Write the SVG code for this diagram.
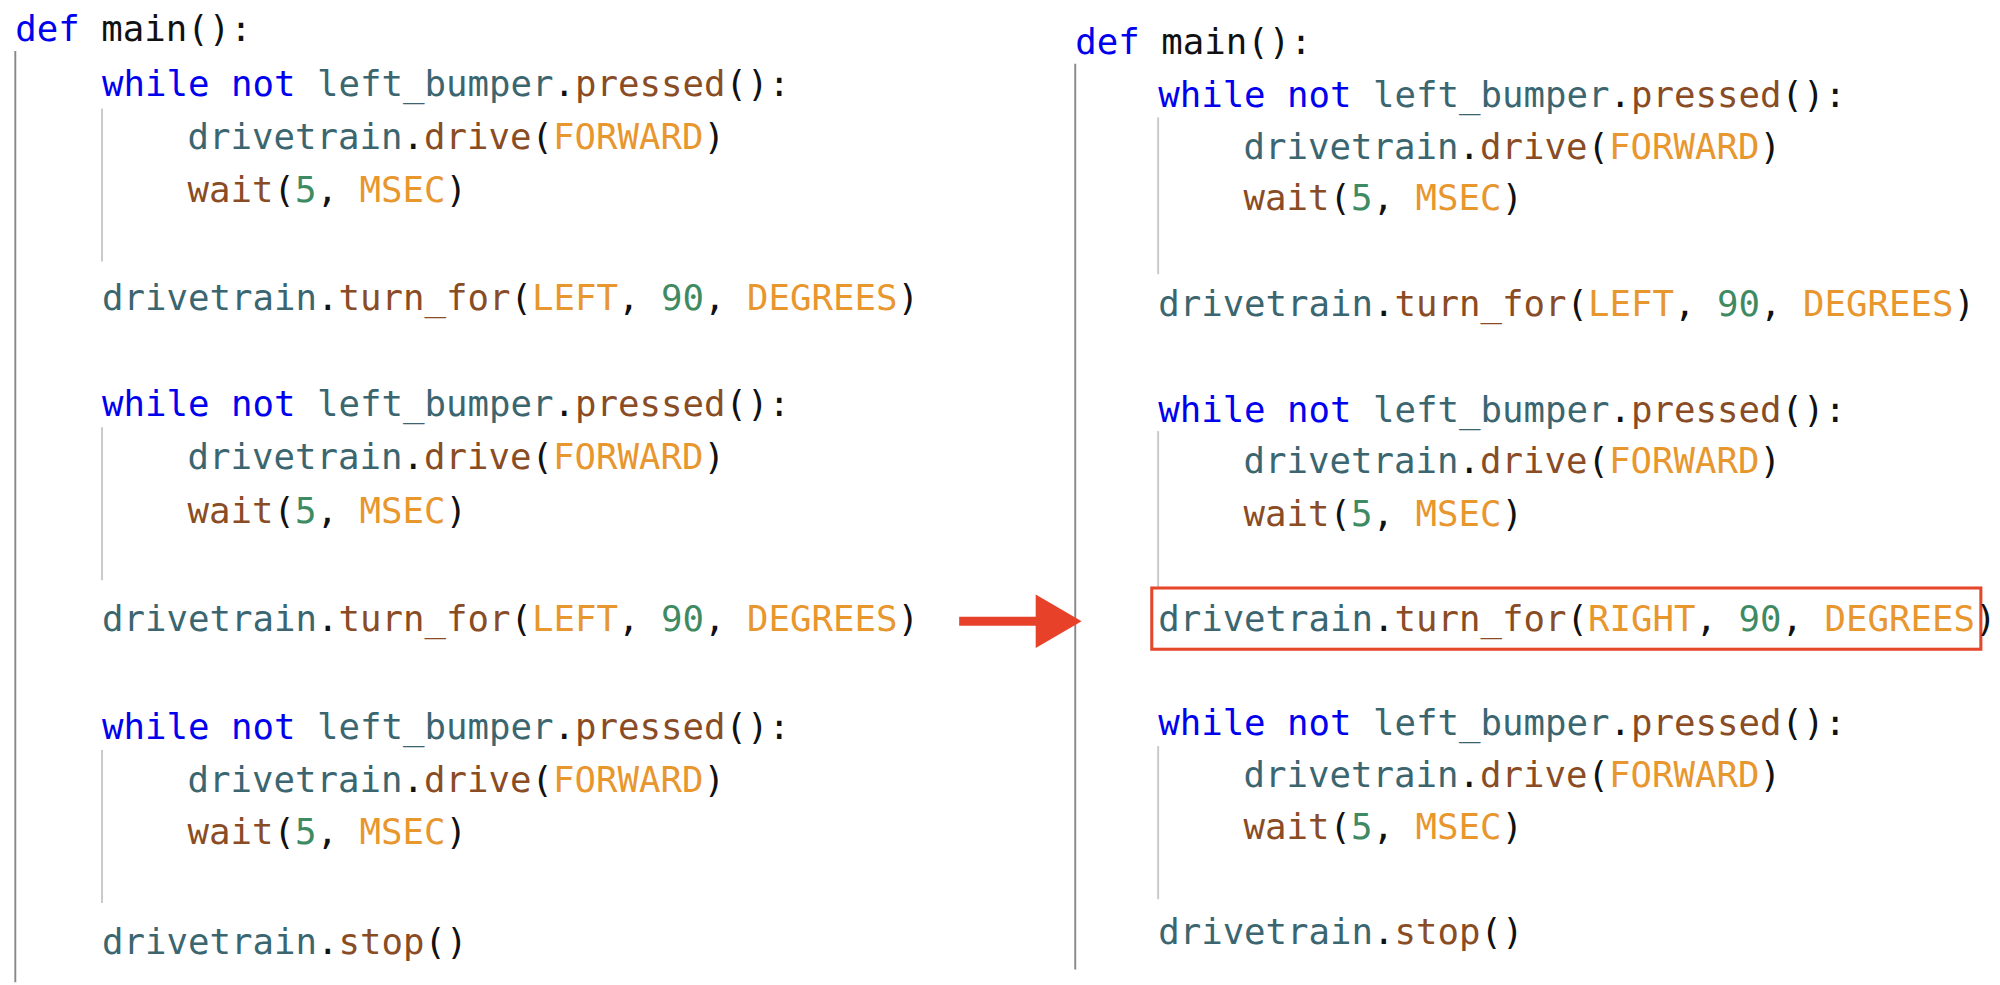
<svg xmlns="http://www.w3.org/2000/svg" width="2000" height="985" viewBox="0 0 2000 985">
<style>
text{font-family:"DejaVu Sans Mono","Liberation Mono",monospace;font-size:28px;fill:#111;white-space:pre}
.k{fill:#0000ee}.v{fill:#3b6670}.m{fill:#8a4c25}.c{fill:#e8962e}.n{fill:#3e8a62}
.g{stroke:#c8c8c8;stroke-width:1.5}.G{stroke:#888;stroke-width:1.5}
</style>
<rect width="2000" height="985" fill="#fff"/>
<g transform="scale(1.2755)">
<g id="left">
<line class="G" x1="12" y1="40" x2="12" y2="770"/>
<line class="g" x1="80" y1="85" x2="80" y2="205"/>
<line class="g" x1="80" y1="335" x2="80" y2="455"/>
<line class="g" x1="80" y1="588" x2="80" y2="708"/>
<text x="12" y="32"><tspan class="k">def</tspan> main():</text>
<text x="80" y="75"><tspan class="k">while not</tspan> <tspan class="v">left_bumper</tspan>.<tspan class="m">pressed</tspan>():</text>
<text x="147" y="117"><tspan class="v">drivetrain</tspan>.<tspan class="m">drive</tspan>(<tspan class="c">FORWARD</tspan>)</text>
<text x="147" y="158"><tspan class="m">wait</tspan>(<tspan class="n">5</tspan>, <tspan class="c">MSEC</tspan>)</text>
<text x="80" y="243"><tspan class="v">drivetrain</tspan>.<tspan class="m">turn_for</tspan>(<tspan class="c">LEFT</tspan>, <tspan class="n">90</tspan>, <tspan class="c">DEGREES</tspan>)</text>
<text x="80" y="326"><tspan class="k">while not</tspan> <tspan class="v">left_bumper</tspan>.<tspan class="m">pressed</tspan>():</text>
<text x="147" y="368"><tspan class="v">drivetrain</tspan>.<tspan class="m">drive</tspan>(<tspan class="c">FORWARD</tspan>)</text>
<text x="147" y="410"><tspan class="m">wait</tspan>(<tspan class="n">5</tspan>, <tspan class="c">MSEC</tspan>)</text>
<text x="80" y="495"><tspan class="v">drivetrain</tspan>.<tspan class="m">turn_for</tspan>(<tspan class="c">LEFT</tspan>, <tspan class="n">90</tspan>, <tspan class="c">DEGREES</tspan>)</text>
<text x="80" y="579"><tspan class="k">while not</tspan> <tspan class="v">left_bumper</tspan>.<tspan class="m">pressed</tspan>():</text>
<text x="147" y="621"><tspan class="v">drivetrain</tspan>.<tspan class="m">drive</tspan>(<tspan class="c">FORWARD</tspan>)</text>
<text x="147" y="662"><tspan class="m">wait</tspan>(<tspan class="n">5</tspan>, <tspan class="c">MSEC</tspan>)</text>
<text x="80" y="748"><tspan class="v">drivetrain</tspan>.<tspan class="m">stop</tspan>()</text>
</g>
<g id="right">
<line class="G" x1="843" y1="50" x2="843" y2="760"/>
<line class="g" x1="908" y1="92" x2="908" y2="215"/>
<line class="g" x1="908" y1="338" x2="908" y2="460"/>
<line class="g" x1="908" y1="585" x2="908" y2="705"/>
<text x="843" y="42"><tspan class="k">def</tspan> main():</text>
<text x="908" y="84"><tspan class="k">while not</tspan> <tspan class="v">left_bumper</tspan>.<tspan class="m">pressed</tspan>():</text>
<text x="975" y="125"><tspan class="v">drivetrain</tspan>.<tspan class="m">drive</tspan>(<tspan class="c">FORWARD</tspan>)</text>
<text x="975" y="165"><tspan class="m">wait</tspan>(<tspan class="n">5</tspan>, <tspan class="c">MSEC</tspan>)</text>
<text x="908" y="248"><tspan class="v">drivetrain</tspan>.<tspan class="m">turn_for</tspan>(<tspan class="c">LEFT</tspan>, <tspan class="n">90</tspan>, <tspan class="c">DEGREES</tspan>)</text>
<text x="908" y="331"><tspan class="k">while not</tspan> <tspan class="v">left_bumper</tspan>.<tspan class="m">pressed</tspan>():</text>
<text x="975" y="371"><tspan class="v">drivetrain</tspan>.<tspan class="m">drive</tspan>(<tspan class="c">FORWARD</tspan>)</text>
<text x="975" y="412"><tspan class="m">wait</tspan>(<tspan class="n">5</tspan>, <tspan class="c">MSEC</tspan>)</text>
<rect x="903" y="461" width="650" height="48" fill="none" stroke="#e5472b" stroke-width="2.4"/>
<text x="908" y="495"><tspan class="v">drivetrain</tspan>.<tspan class="m">turn_for</tspan>(<tspan class="c">RIGHT</tspan>, <tspan class="n">90</tspan>, <tspan class="c">DEGREES</tspan>)</text>
<text x="908" y="576"><tspan class="k">while not</tspan> <tspan class="v">left_bumper</tspan>.<tspan class="m">pressed</tspan>():</text>
<text x="975" y="617"><tspan class="v">drivetrain</tspan>.<tspan class="m">drive</tspan>(<tspan class="c">FORWARD</tspan>)</text>
<text x="975" y="658"><tspan class="m">wait</tspan>(<tspan class="n">5</tspan>, <tspan class="c">MSEC</tspan>)</text>
<text x="908" y="740"><tspan class="v">drivetrain</tspan>.<tspan class="m">stop</tspan>()</text>
</g>
<g id="connectors">
<line x1="752" y1="487" x2="815" y2="487" stroke="#e8412a" stroke-width="7"/>
<polygon points="812,466 848,487 812,508" fill="#e8412a"/>
</g>
</g>
</svg>
